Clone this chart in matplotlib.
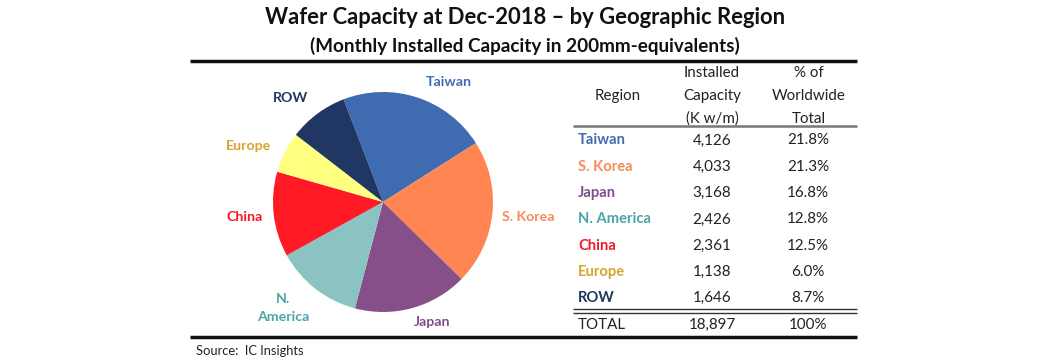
import matplotlib
matplotlib.use("Agg")
import matplotlib.pyplot as plt

regions = ["Taiwan", "S. Korea", "Japan", "N. America", "China", "Europe", "ROW"]
pie_labels = ["Taiwan", "S. Korea", "Japan", "N.\nAmerica", "China", "Europe", "ROW"]
capacity = [4126, 4033, 3168, 2426, 2361, 1138, 1646]
share = ["21.8%", "21.3%", "16.8%", "12.8%", "12.5%", "6.0%", "8.7%"]
total_capacity = "18,897"
total_share = "100%"
slice_colors = ["#3F6BB0", "#FF8652", "#874F8A", "#8BC3C3", "#FF1A25", "#FFFF80", "#1F3762"]
text_colors = ["#3F6BB0", "#F68B5A", "#7E4F8C", "#4BA5A8", "#F0192A", "#D6A52A", "#1F3762"]

plt.rcParams['font.family'] = ['Lato', 'DejaVu Sans']
W, H = 1050, 361
fig = plt.figure(figsize=(W / 100, H / 100), dpi=100)

# overlay axes in pixel coordinates
ov = fig.add_axes([0, 0, 1, 1])
ov.set_xlim(0, W)
ov.set_ylim(H, 0)
ov.axis("off")

ov.text(525, 18, "Wafer Capacity at Dec-2018 \u2013 by Geographic Region", ha="center", va="center",
        fontsize=15.8, fontweight="bold", color="#111111")
ov.text(525, 46, "(Monthly Installed Capacity in 200mm-equivalents)", ha="center", va="center",
        fontsize=13.6, fontweight="bold", color="#111111")
ov.plot([190, 857], [61, 61], color="#111111", lw=2.5, solid_capstyle="butt")
ov.plot([190, 857], [337, 337], color="#111111", lw=2.5, solid_capstyle="butt")
ov.text(196, 351, "Source:  IC Insights", ha="left", va="center", fontsize=9.3, color="#222222")

fs = 10.9
# table header
ov.text(618, 96, "Region", ha="center", va="center", fontsize=fs, color="#222222")
for i, s in enumerate(["Installed", "Capacity", "(K w/m)"]):
    ov.text(712, 73 + 23 * i, s, ha="center", va="center", fontsize=fs, color="#222222")
for i, s in enumerate(["% of", "Worldwide", "Total"]):
    ov.text(809, 73 + 23 * i, s, ha="center", va="center", fontsize=fs, color="#222222")
ov.plot([573, 857], [126, 126], color="#777777", lw=1.8, solid_capstyle="butt")

row_y0, row_dy = 140.5, 26.3
for i, (r, c, s, tc) in enumerate(zip(regions, capacity, share, text_colors)):
    y = row_y0 + row_dy * i
    ov.text(578, y, r, ha="left", va="center", fontsize=10.6, fontweight="bold", color=tc)
    ov.text(712, y, f"{c:,}", ha="center", va="center", fontsize=fs, color="#222222")
    ov.text(808, y, s, ha="center", va="center", fontsize=fs, color="#222222")

ov.plot([573, 857], [309, 309], color="#333333", lw=1.0, solid_capstyle="butt")
ov.plot([573, 857], [313, 313], color="#333333", lw=1.0, solid_capstyle="butt")
ov.text(578, 325, "TOTAL", ha="left", va="center", fontsize=fs, color="#222222")
ov.text(712, 325, total_capacity, ha="center", va="center", fontsize=fs, color="#222222")
ov.text(808, 325, total_share, ha="center", va="center", fontsize=fs, color="#222222")

# pie
cx, cy, R = 383, 202, 110
pax = fig.add_axes([(cx - R) / W, (H - cy - R) / H, 2 * R / W, 2 * R / H])
wedges, texts = pax.pie(capacity, colors=slice_colors, startangle=111, counterclock=False,
                        labels=pie_labels, labeldistance=1.2,
                        wedgeprops=dict(linewidth=0))
pax.set_xlim(-1, 1)
pax.set_ylim(-1, 1)
label_pos = [(0.60, 1.09), (1.32, -0.14), (0.45, -1.09), (-0.91, -0.96),
             (-1.26, -0.14), (-1.22, 0.51), (-0.84, 0.95)]
for t, (x, y), tc in zip(texts, label_pos, text_colors):
    t.set_position((x, y))
    t.set_ha("center")
    t.set_va("center")
    t.set_color(tc)
    t.set_fontsize(10.2)
    t.set_fontweight("bold")
    t.set_multialignment("center")
    t.set_linespacing(1.6)

fig.savefig("out.png", dpi=100, facecolor="white")
